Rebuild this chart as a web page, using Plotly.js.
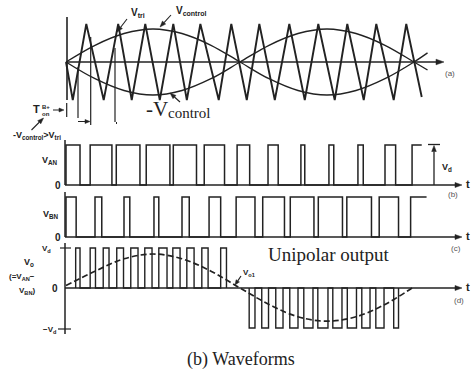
<!DOCTYPE html>
<html><head><meta charset="utf-8">
<script src="https://cdn.plot.ly/plotly-3.0.1.min.js"></script>
<style>html,body{margin:0;padding:0;background:#fff}#c{width:474px;height:372px}</style>
</head><body><div id="c"></div>
<script>
// ---- data (time in degrees of the modulating wave) ----
const triT = [0, 7, 21, 39, 54, 68, 82, 97, 111, 125, 139, 158, 171, 187, 200, 216, 231, 247, 261, 278, 291, 308, 321, 339, 352, 368];
const triV = [0, -1, 1, -1, 1, -1, 1, -1, 1, -1, 1, -1, 1, -1, 1, -1, 1, -1, 1, -1, 1, -1, 1, -1, 1, -0.92];
const ctrlT = [0, 30, 60, 90, 120, 150, 180, 210, 240, 270, 300, 330, 360, 374];
const ctrlV = [0, 0.44, 0.75, 0.87, 0.75, 0.44, 0, -0.44, -0.75, -0.87, -0.75, -0.44, 0, 0.24];
const nctrlV = [0, -0.44, -0.75, -0.87, -0.75, -0.44, 0, 0.44, 0.75, 0.87, 0.75, 0.44, 0, -0.21];
const vanOn  = [0, 25, 52, 83, 111, 143, 177, 209, 243, 272, 302, 330, 358];
const vanOff = [14.5, 47.5, 76.5, 107.5, 135, 164, 190, 219.5, 247, 277, 307.5, 341, 368];
const vbnOn  = [0, 30, 60, 91, 120, 148, 176, 203.5, 232, 261, 290.5, 324, 356.5];
const vbnOff = [10.5, 37, 66, 96, 127.5, 160, 195.5, 226, 256.5, 286, 316, 344, 373];
const voPosOn  = [10, 25, 38.5, 52.5, 67, 81.5, 96, 110.5, 125, 140.5, 160];
const voPosOff = [14.5, 30.5, 44.5, 59.5, 74.5, 89, 104.5, 118, 132.5, 147, 166];
const voNegOn  = [189.5, 202.5, 217, 231.5, 246, 260.5, 276, 291, 306, 320.5, 339];
const voNegOff = [195.5, 209.5, 224.5, 240, 255.5, 271, 285.5, 300.5, 314.5, 329, 344];
const vo1T = [0, 30, 60, 90, 120, 150, 180, 210, 240, 270, 300, 330, 358];
const vo1V = [0.06, 0.42, 0.73, 0.85, 0.73, 0.42, 0, -0.41, -0.72, -0.83, -0.72, -0.41, 0];

// ---- layout helpers ----
const W = 474, H = 372, X0 = 66, PXDEG = 174 / 180;
const INK = '#222222';
function yr(zero, unit) { return [(zero - H) / unit, zero / unit]; }
function pulses(on, off, level, openEnd) {
  const x = [], y = [];
  for (let i = 0; i < on.length; i++) {
    x.push(on[i], on[i], off[i]); y.push(0, level, level);
    if (!(openEnd && i === on.length - 1)) { x.push(off[i]); y.push(0); }
  }
  return {x, y};
}
const px = v => v / W, py = v => 1 - v / H;
const shapes = [], ann = [];
function seg(x1, y1, x2, y2, w, c) {
  shapes.push({type: 'line', xref: 'paper', yref: 'paper', x0: px(x1), y0: py(y1), x1: px(x2), y1: py(y2),
    line: {color: c || INK, width: w || 1.4}});
}
function arrow(x1, y1, x2, y2, w, len, half) {
  len = len || 6; half = half || 2.4;
  const dx = x2 - x1, dy = y2 - y1, L = Math.hypot(dx, dy), ux = dx / L, uy = dy / L;
  const bx = x2 - ux * len, by = y2 - uy * len;
  seg(x1, y1, bx, by, w || 1.1);
  const p1 = [bx - uy * half, by + ux * half], p2 = [bx + uy * half, by - ux * half];
  shapes.push({type: 'path', xref: 'paper', yref: 'paper',
    path: 'M ' + px(x2) + ' ' + py(y2) + ' L ' + px(p1[0]) + ' ' + py(p1[1]) + ' L ' + px(p2[0]) + ' ' + py(p2[1]) + ' Z',
    fillcolor: INK, line: {color: INK, width: 0.5}});
}
const SANS = 'Liberation Sans, Arial, sans-serif';
const SERIF = 'Liberation Serif, Times New Roman, serif';
function label(x, y, t, size, opt) {
  opt = opt || {};
  ann.push({xref: 'paper', yref: 'paper', x: px(x), y: py(y), text: t, showarrow: false,
    xanchor: 'center', yanchor: 'middle',
    font: {size: size, family: opt.fam || SANS, color: opt.col || INK, weight: opt.bold ? 700 : 400}});
}
const B = {bold: true};

// ---- traces ----
const van = pulses(vanOn, vanOff, 1, true);
const vbn = pulses(vbnOn, vbnOff, 1, true);
const vop = pulses(voPosOn, voPosOff, 1, false);
const von = pulses(voNegOn, voNegOff, -1, false);
const traces = [
  {x: triT, y: triV, yaxis: 'y', mode: 'lines', line: {color: INK, width: 1.9}},
  {x: ctrlT, y: ctrlV, yaxis: 'y', mode: 'lines', line: {color: INK, width: 1.4, shape: 'spline'}},
  {x: ctrlT, y: nctrlV, yaxis: 'y', mode: 'lines', line: {color: INK, width: 1.4, shape: 'spline'}},
  {x: van.x, y: van.y, yaxis: 'y2', mode: 'lines', line: {color: INK, width: 1.5}},
  {x: vbn.x, y: vbn.y, yaxis: 'y3', mode: 'lines', line: {color: INK, width: 1.5}},
  {x: vop.x, y: vop.y, yaxis: 'y4', mode: 'lines', line: {color: INK, width: 1.4}},
  {x: von.x, y: von.y, yaxis: 'y4', mode: 'lines', line: {color: INK, width: 1.4}},
  {x: vo1T, y: vo1V, yaxis: 'y4', mode: 'lines', line: {color: INK, width: 1.7, dash: '6px,3px', shape: 'spline'}}
];

// ---- axes & decorations ----
// (a)
seg(67, 17, 67, 100, 1.6); arrow(67, 62, 444, 62, 1.6, 8, 2.8);
// (b)
seg(65, 140, 65, 185, 1.5); arrow(65, 185, 462, 185, 1.5, 7, 2.5);
arrow(434, 185, 434, 145.5, 1.3, 6, 2.3); seg(428, 144.5, 440, 144.5, 1.3);
// (c)
seg(65, 192, 65, 237, 1.5); arrow(65, 237, 462, 237, 1.5, 7, 2.5);
// (d)
seg(65, 243, 65, 334, 1.5); arrow(65, 288, 462, 288, 1.5, 7, 2.5);
seg(60, 248, 71, 248, 1.2); seg(58, 329, 71, 329, 1.2);
// dimension lines in (a)
seg(78, 67, 78, 118, 1.2); seg(90.7, 37, 90.7, 125, 1.2); seg(115, 48, 115, 122, 1.2);
seg(66.7, 103, 66.7, 117, 1.2);
arrow(53, 110, 64, 110, 1, 5, 2); arrow(78, 121.5, 90, 121.5, 1, 5, 2);
seg(116, 123, 117, 123, 2);
// pointer arrows
arrow(127, 19, 117, 32, 1.1, 6, 2.2); arrow(171, 15, 160, 27, 1.1, 6, 2.2); arrow(180, 102, 170, 93, 1.1, 6, 2.2);
arrow(31.5, 130, 43.5, 118, 1.1, 6, 2.2); arrow(241, 276, 235, 285, 1.1, 5, 2);

// ---- text ----
label(138, 13, 'V<sub>tri</sub>', 10, B);
label(191, 11, 'V<sub>control</sub>', 10, B);
label(157, 109, '-V', 21, {fam: SERIF});
label(189, 113, 'control', 15, {fam: SERIF});
label(450, 73, '(a)', 8, {col: '#555'});
label(36.5, 109, 'T', 11, B);
label(46, 106.5, 'B+', 6, B);
label(45.5, 113.5, 'on', 6, B);
label(37, 135, '-V<sub>control</sub>&gt;V<sub>tri</sub>', 9, B);
label(50, 160, 'V<sub>AN</sub>', 9, B);
label(58, 185, '0', 10, B);
label(51, 214, 'V<sub>BN</sub>', 9, B);
label(58, 237, '0', 10, B);
label(447, 167, 'V<sub>d</sub>', 9, B);
label(468, 184, 't', 11, B); label(468, 236, 't', 11, B); label(468, 287, 't', 11, B);
label(453, 194, '(b)', 8, {col: '#555'}); label(456, 249, '(c)', 8, {col: '#555'}); label(459, 300, '(d)', 8, {col: '#555'});
label(329, 255, 'Unipolar output', 19, {fam: SERIF});
label(249, 273, 'V<sub>o1</sub>', 8, B);
label(46, 249, 'V<sub>d</sub>', 8, B);
label(29, 262, 'V<sub>o</sub>', 9, B);
label(22, 277, '(=V<sub>AN</sub>−', 8, B);
label(27, 291, 'V<sub>BN</sub>)', 8, B);
label(55, 288, '0', 10, B);
label(50, 330, '−V<sub>d</sub>', 8, B);
label(241, 359, '(b) Waveforms', 18, {fam: SERIF});

const hid = {visible: false, fixedrange: true};
const layout = {
  width: W, height: H, margin: {l: 0, r: 0, t: 0, b: 0}, showlegend: false,
  paper_bgcolor: '#fff', plot_bgcolor: '#fff',
  xaxis: Object.assign({range: [-X0 / PXDEG, (W - X0) / PXDEG]}, hid),
  yaxis: Object.assign({range: yr(62, 38)}, hid),
  yaxis2: Object.assign({range: yr(185, 40), overlaying: 'y'}, hid),
  yaxis3: Object.assign({range: yr(237, 40), overlaying: 'y'}, hid),
  yaxis4: Object.assign({range: yr(288, 40), overlaying: 'y'}, hid),
  shapes: shapes, annotations: ann
};
Plotly.newPlot('c', traces, layout, {staticPlot: true, displayModeBar: false});
</script></body></html>
